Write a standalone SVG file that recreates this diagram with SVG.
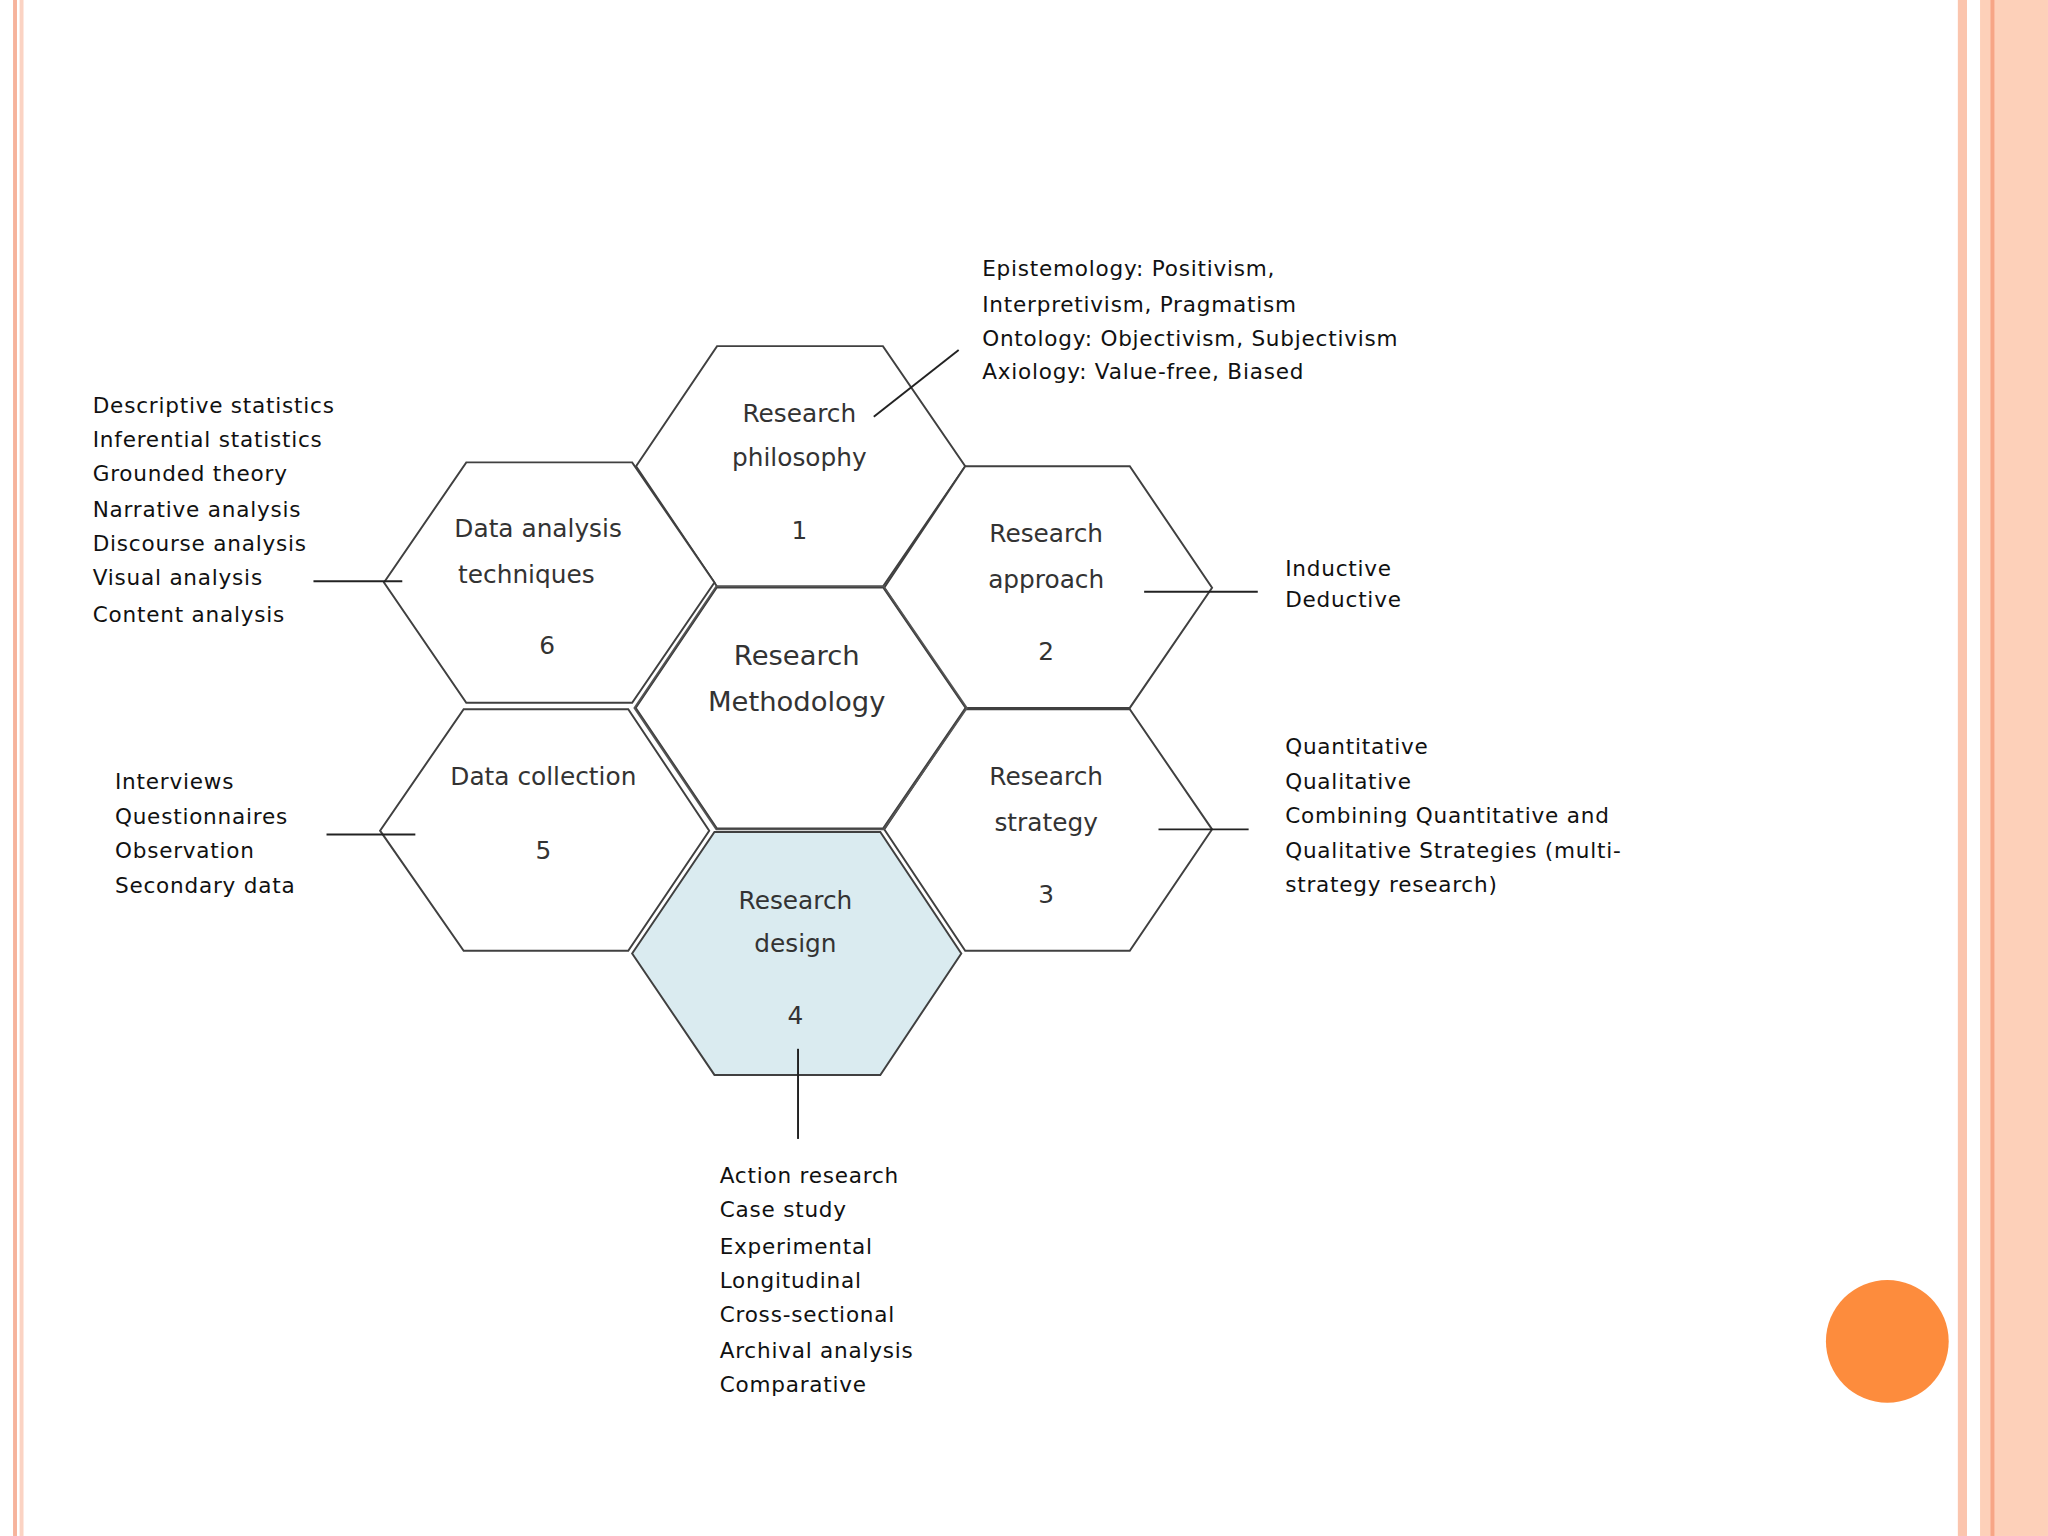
<svg xmlns="http://www.w3.org/2000/svg" width="2048" height="1536" viewBox="0 0 2048 1536">
<style>
.hex{fill:#fff;stroke:#404040;stroke-width:1.5}
.t{font-family:"DejaVu Sans",Verdana,sans-serif;font-size:19px;fill:#333;text-anchor:middle}
.s{font-family:"DejaVu Sans",Verdana,sans-serif;font-size:16.5px;fill:#111;letter-spacing:0.6px}
.c{stroke:#222;stroke-width:1.5;fill:none}
</style>
<rect width="2048" height="1536" fill="#fff"/>
<g transform="scale(1.3061)">
<g id="frame">
<rect x="10" y="0" width="3" height="1176" fill="#f6b39c"/>
<rect x="15" y="0" width="3" height="1176" fill="#fbd3c3"/>
<rect x="1499" y="0" width="7" height="1176" fill="#fbc5ae"/>
<rect x="1516" y="0" width="52" height="1176" fill="#fdd0b9"/>
<rect x="1524" y="0" width="3" height="1176" fill="#f7a586"/>
<circle cx="1445" cy="1027" r="47" fill="#fd8c3d"/>
</g>
<g id="n1"><polygon class="hex" points="549,265 676,265 739,357 676,449 549,449 487,357"/>
<text class="t" x="612" y="323">Research</text><text class="t" x="612" y="357">philosophy</text><text class="t" x="612" y="413">1</text></g>
<g id="n2"><polygon class="hex" points="739,357 865,357 928,450 865,542 739,542 677,450"/>
<text class="t" x="801" y="415">Research</text><text class="t" x="801" y="450">approach</text><text class="t" x="801" y="505">2</text></g>
<g id="n3"><polygon class="hex" points="739,543 865,543 928,635 865,728 739,728 677,635"/>
<text class="t" x="801" y="601">Research</text><text class="t" x="801" y="636">strategy</text><text class="t" x="801" y="691">3</text></g>
<g id="n4"><polygon class="hex" style="fill:#daebf0" points="547,637 674,637 736,730 674,823 547,823 484,730"/>
<text class="t" x="609" y="696">Research</text><text class="t" x="609" y="729">design</text><text class="t" x="609" y="784">4</text></g>
<g id="n5"><polygon class="hex" points="355,543 481,543 543,636 481,728 355,728 291,636"/>
<text class="t" x="416" y="601">Data collection</text><text class="t" x="416" y="658">5</text></g>
<g id="n6"><polygon class="hex" points="357,354 484,354 547,446 484,538 357,538 294,446"/>
<text class="t" x="412" y="411">Data analysis</text><text class="t" x="403" y="446">techniques</text><text class="t" x="419" y="501">6</text></g>
<g id="n0"><polygon class="hex" style="stroke-width:3.5;stroke:#555" points="549,450 676,450 739,542 676,634 549,634 487,542"/>
<polygon class="hex" style="stroke-width:1" points="549,450 676,450 739,542 676,634 549,634 487,542"/>
<text class="t" style="font-size:21px" x="610" y="509">Research</text><text class="t" style="font-size:21px" x="610" y="544">Methodology</text></g>
<g id="connectors">
<line class="c" x1="669" y1="319" x2="734" y2="268"/>
<line class="c" x1="876" y1="453" x2="963" y2="453"/>
<line class="c" x1="887" y1="635" x2="956" y2="635"/>
<line class="c" x1="611" y1="803" x2="611" y2="872"/>
<line class="c" x1="250" y1="639" x2="318" y2="639"/>
<line class="c" x1="240" y1="445" x2="308" y2="445"/>
</g>
<g id="labels">
<text class="s" x="752" y="211">Epistemology: Positivism,</text>
<text class="s" x="752" y="239">Interpretivism, Pragmatism</text>
<text class="s" x="752" y="265">Ontology: Objectivism, Subjectivism</text>
<text class="s" x="752" y="290">Axiology: Value-free, Biased</text>
<text class="s" x="71" y="316">Descriptive statistics</text>
<text class="s" x="71" y="342">Inferential statistics</text>
<text class="s" x="71" y="368">Grounded theory</text>
<text class="s" x="71" y="396">Narrative analysis</text>
<text class="s" x="71" y="422">Discourse analysis</text>
<text class="s" x="71" y="448">Visual analysis</text>
<text class="s" x="71" y="476">Content analysis</text>
<text class="s" x="984" y="441">Inductive</text>
<text class="s" x="984" y="465">Deductive</text>
<text class="s" x="984" y="577">Quantitative</text>
<text class="s" x="984" y="604">Qualitative</text>
<text class="s" x="984" y="630">Combining Quantitative and</text>
<text class="s" x="984" y="657">Qualitative Strategies (multi-</text>
<text class="s" x="984" y="683">strategy research)</text>
<text class="s" x="88" y="604">Interviews</text>
<text class="s" x="88" y="631">Questionnaires</text>
<text class="s" x="88" y="657">Observation</text>
<text class="s" x="88" y="684">Secondary data</text>
<text class="s" x="551" y="906">Action research</text>
<text class="s" x="551" y="932">Case study</text>
<text class="s" x="551" y="960">Experimental</text>
<text class="s" x="551" y="986">Longitudinal</text>
<text class="s" x="551" y="1012">Cross-sectional</text>
<text class="s" x="551" y="1040">Archival analysis</text>
<text class="s" x="551" y="1066">Comparative</text>
</g>
</g>
</svg>
